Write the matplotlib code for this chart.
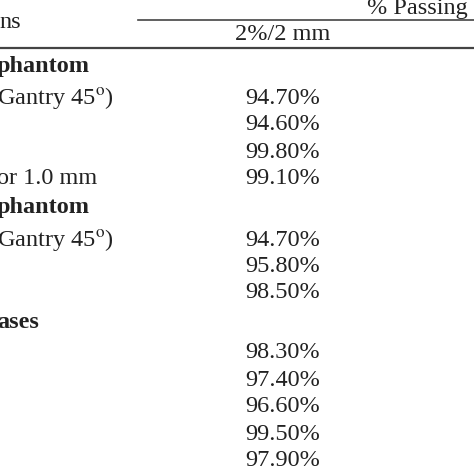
import matplotlib

matplotlib.use("Agg")
import matplotlib.pyplot as plt

plt.rcParams["mathtext.fontset"] = "stix"

labels = ["phantom", "Gantry 45$^{\\rm o}$)", "", "", "or 1.0 mm",
          "phantom", "Gantry 45$^{\\rm o}$)", "", "",
          "ases", "", "", "", "", ""]
bold = [True, False, False, False, False, True, False, False, False,
        True, False, False, False, False, False]
values = ["", "94.70%", "94.60%", "99.80%", "99.10%",
          "", "94.70%", "95.80%", "98.50%",
          "", "98.30%", "97.40%", "96.60%", "99.50%", "97.90%"]
row_y = [66, 98, 124, 152, 179, 207, 240, 266, 293, 322, 353, 380, 407, 434, 461]

fig = plt.figure(figsize=(4.74, 4.74), dpi=100)
ax = fig.add_axes([0, 0, 1, 1])
ax.set_xlim(0, 474)
ax.set_ylim(474, 0)
ax.axis("off")
font = {"family": "Liberation Serif", "fontsize": 17.5, "color": "#222222"}

ax.text(367, 8, "% Passing ra", va="center", ha="left", **font)
ax.text(-1, 22, "ns", va="center", ha="left", **font)
ax.plot([138, 474], [20, 20], color="#444444", lw=1.2)
ax.text(283, 34, "2%/2 mm", va="center", ha="center", **font)
ax.plot([0, 474], [48, 48], color="#444444", lw=1.6)

for y, lab, b, val in zip(row_y, labels, bold, values):
    ax.text(-3, y, lab, va="center", ha="left",
            fontweight="bold" if b else "normal", **font)
    ax.text(283, y, val, va="center", ha="center", **font)

fig.savefig("out.png", dpi=100)
